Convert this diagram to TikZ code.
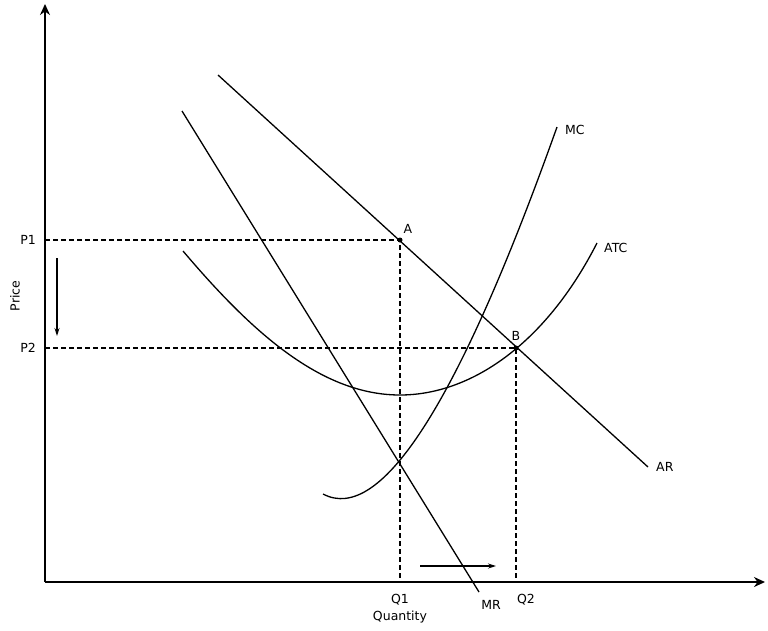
\documentclass[tikz,border=0pt]{standalone}
\usepackage{fontspec}
\setmainfont{DejaVu Sans}
\usetikzlibrary{arrows.meta}
\begin{document}
\begin{tikzpicture}[x=1pt,y=-1pt,
  axis/.style={line width=2pt,-{Stealth[length=11pt,width=10pt]}},
  curve/.style={line width=1.3pt},
  guide/.style={line width=1.1pt,dash pattern=on 5pt off 3pt},
  movearrow/.style={line width=1.1pt,-{Stealth[length=8pt,width=5pt]}},
  lbl/.style={font=\fontsize{12.5}{14}\selectfont,inner sep=1pt},
  pt/.style={circle,fill=black,inner sep=0pt,minimum size=5pt}]
\useasboundingbox (0,0) rectangle (768,630);
% axes
\coordinate (O) at (45,582);
\coordinate (Ytop) at (45,4);
\coordinate (Xend) at (765,582);
\draw[axis] (O) -- (Ytop);
\draw[axis] (O) -- (Xend);
% key points
\node[pt] (A) at (400,240) {};
\node[pt] (B) at (516,348) {};
\coordinate (P1a) at (45,240);
\coordinate (P2a) at (45,348);
\coordinate (Q1a) at (400,582);
\coordinate (Q2a) at (516,582);
% guides
\draw[guide] (P1a) -- (A.center) -- (Q1a);
\draw[guide] (P2a) -- (B.center) -- (Q2a);
% AR
\coordinate (ARs) at (218,75);
\coordinate (ARe) at (648,467);
\draw[curve] (ARs) -- (ARe);
% MR
\coordinate (MRs) at (182,111);
\coordinate (MRe) at (479,592);
\draw[curve] (MRs) -- (MRe);
% MC
\coordinate (MCs) at (323,494);
\coordinate (MCe) at (557,127);
\draw[curve] (MCs) .. controls (381,524.7) and (459,402.3) .. (MCe);
% ATC
\coordinate (ATCs) at (183,251);
\coordinate (ATCm) at (400,395);
\coordinate (ATCe) at (597,243);
\draw[curve] (ATCs) .. controls (250,330) and (320,395) .. (ATCm)
  .. controls (470,395) and (545,345) .. (ATCe);
% labels
\node[lbl] (lA) at (408,229) {A};
\node[lbl] (lB) at (516,336) {B};
\node[lbl,anchor=west] (lMC) at (564,130) {MC};
\node[lbl,anchor=west] (lATC) at (603,248) {ATC};
\node[lbl,anchor=west] (lAR) at (655,467) {AR};
\node[lbl] (lMR) at (491,605) {MR};
\node[lbl] (lQ1) at (400,600) {Q1};
\node[lbl] (lQ2) at (526,600) {Q2};
\node[lbl] (lQ) at (400,617) {Quantity};
\node[lbl] (lP1) at (28,240) {P1};
\node[lbl] (lP2) at (28,348) {P2};
\node[lbl,rotate=90] (lPrice) at (15,296) {Price};
% shift arrows
\coordinate (d1) at (57,258);
\coordinate (d2) at (57,336);
\draw[movearrow] (d1) -- (d2);
\coordinate (r1) at (420,566);
\coordinate (r2) at (496,566);
\draw[movearrow] (r1) -- (r2);
\end{tikzpicture}
\end{document}
